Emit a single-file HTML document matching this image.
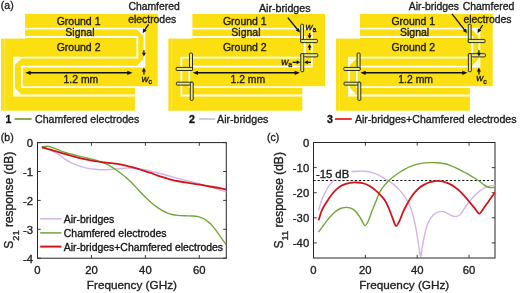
<!DOCTYPE html>
<html><head><meta charset="utf-8"><title>Figure</title>
<style>html,body{margin:0;padding:0;background:#fff;}body{width:520px;height:293px;overflow:hidden;}svg{display:block;}</style>
</head><body>
<svg width="520" height="293" viewBox="0 0 520 293"><g font-family="'Liberation Sans', Arial, Helvetica, sans-serif" fill="#1a1a1a">
<style>text{stroke:#1a1a1a;stroke-width:0.34px;}</style>
<g transform="translate(0,0)">
<rect x="25" y="13.9" width="132.7" height="72.3" fill="#fbdf10"/>
<rect x="1" y="38.6" width="133.9" height="72.1" fill="#fbdf10"/>
<rect x="4" y="38.6" width="1" height="72.1" fill="#fff" opacity="0.25"/>
<polyline points="25,28.7 144.4,28.7 144.4,66.6 21.9,66.6 21.9,87.1 134.9,87.1" fill="none" stroke="#fff" stroke-width="1.8" stroke-linejoin="miter" stroke-linecap="butt"/>
<polyline points="25,37 137.3,37 137.3,57.6 14,57.6 14,95.5 134.9,95.5" fill="none" stroke="#fff" stroke-width="1.8" stroke-linejoin="miter" stroke-linecap="butt"/>
<polygon points="136.9,29.6 143.5,29.6 143.5,36.2" fill="#fff" opacity="0.95"/>
<polygon points="143.5,59.1 143.5,65.7 136.9,65.7" fill="#fff" opacity="0.95"/>
<polygon points="14.9,58.5 21.5,58.5 14.9,65.1" fill="#fff" opacity="0.95"/>
<polygon points="14.9,88 14.9,94.6 21.5,94.6" fill="#fff" opacity="0.95"/>
<line x1="29" y1="72.8" x2="129" y2="72.8" stroke="#111" stroke-width="1.4"/>
<polygon points="25.4,72.8 30.6,70.7 30.6,74.9" fill="#111"/>
<polygon points="132.5,72.8 127.3,70.7 127.3,74.9" fill="#111"/>
</g>
<g transform="translate(167.4,0)">
<rect x="25" y="13.9" width="132.7" height="72.3" fill="#fbdf10"/>
<rect x="1" y="38.6" width="133.9" height="72.1" fill="#fbdf10"/>
<rect x="4" y="38.6" width="1" height="72.1" fill="#fff" opacity="0.25"/>
<polyline points="25,28.7 144.4,28.7 144.4,66.6 21.9,66.6 21.9,87.1 134.9,87.1" fill="none" stroke="#fff" stroke-width="1.8" stroke-linejoin="miter" stroke-linecap="butt"/>
<polyline points="25,37 137.3,37 137.3,57.6 14,57.6 14,95.5 134.9,95.5" fill="none" stroke="#fff" stroke-width="1.8" stroke-linejoin="miter" stroke-linecap="butt"/>
<rect x="133.3" y="24.3" width="2.8" height="18.2" rx="0.8" fill="#e9ea78" stroke="#1c1c10" stroke-width="0.9"/>
<rect x="133.3" y="39.4" width="16.7" height="3.2" rx="0.8" fill="#e9ea78" stroke="#1c1c10" stroke-width="0.9"/>
<rect x="133.4" y="53.7" width="17" height="3.2" rx="0.8" fill="#e9ea78" stroke="#1c1c10" stroke-width="0.9"/>
<rect x="133.4" y="53.7" width="2.9" height="18" rx="0.8" fill="#e9ea78" stroke="#1c1c10" stroke-width="0.9"/>
<rect x="22.1" y="53.1" width="3" height="17.4" rx="0.8" fill="#e9ea78" stroke="#1c1c10" stroke-width="0.9"/>
<rect x="8.8" y="67.4" width="16.3" height="3.1" rx="0.8" fill="#e9ea78" stroke="#1c1c10" stroke-width="0.9"/>
<rect x="9" y="82.2" width="16.4" height="2.9" rx="0.8" fill="#e9ea78" stroke="#1c1c10" stroke-width="0.9"/>
<rect x="22.9" y="82.2" width="2.9" height="18.1" rx="0.8" fill="#e9ea78" stroke="#1c1c10" stroke-width="0.9"/>
<line x1="29" y1="72.8" x2="129" y2="72.8" stroke="#111" stroke-width="1.4"/>
<polygon points="25.4,72.8 30.6,70.7 30.6,74.9" fill="#111"/>
<polygon points="132.5,72.8 127.3,70.7 127.3,74.9" fill="#111"/>
</g>
<g transform="translate(335,0)">
<rect x="25" y="13.9" width="132.7" height="72.3" fill="#fbdf10"/>
<rect x="1" y="38.6" width="133.9" height="72.1" fill="#fbdf10"/>
<rect x="4" y="38.6" width="1" height="72.1" fill="#fff" opacity="0.25"/>
<polyline points="25,28.7 144.4,28.7 144.4,66.6 21.9,66.6 21.9,87.1 134.9,87.1" fill="none" stroke="#fff" stroke-width="1.8" stroke-linejoin="miter" stroke-linecap="butt"/>
<polyline points="25,37 137.3,37 137.3,57.6 14,57.6 14,95.5 134.9,95.5" fill="none" stroke="#fff" stroke-width="1.8" stroke-linejoin="miter" stroke-linecap="butt"/>
<polygon points="136.9,29.6 143.5,29.6 143.5,36.2" fill="#fff" opacity="0.95"/>
<polygon points="143.5,59.1 143.5,65.7 136.9,65.7" fill="#fff" opacity="0.95"/>
<polygon points="14.9,58.5 21.5,58.5 14.9,65.1" fill="#fff" opacity="0.95"/>
<polygon points="14.9,88 14.9,94.6 21.5,94.6" fill="#fff" opacity="0.95"/>
<rect x="133.3" y="24.3" width="2.8" height="18.2" rx="0.8" fill="#e9ea78" stroke="#1c1c10" stroke-width="0.9"/>
<rect x="133.3" y="39.4" width="16.7" height="3.2" rx="0.8" fill="#e9ea78" stroke="#1c1c10" stroke-width="0.9"/>
<rect x="133.4" y="53.7" width="17" height="3.2" rx="0.8" fill="#e9ea78" stroke="#1c1c10" stroke-width="0.9"/>
<rect x="133.4" y="53.7" width="2.9" height="18" rx="0.8" fill="#e9ea78" stroke="#1c1c10" stroke-width="0.9"/>
<rect x="22.1" y="53.1" width="3" height="17.4" rx="0.8" fill="#e9ea78" stroke="#1c1c10" stroke-width="0.9"/>
<rect x="8.8" y="67.4" width="16.3" height="3.1" rx="0.8" fill="#e9ea78" stroke="#1c1c10" stroke-width="0.9"/>
<rect x="9" y="82.2" width="16.4" height="2.9" rx="0.8" fill="#e9ea78" stroke="#1c1c10" stroke-width="0.9"/>
<rect x="22.9" y="82.2" width="2.9" height="18.1" rx="0.8" fill="#e9ea78" stroke="#1c1c10" stroke-width="0.9"/>
<line x1="29" y1="72.8" x2="129" y2="72.8" stroke="#111" stroke-width="1.4"/>
<polygon points="25.4,72.8 30.6,70.7 30.6,74.9" fill="#111"/>
<polygon points="132.5,72.8 127.3,70.7 127.3,74.9" fill="#111"/>
</g>
<text x="56.7" y="24.7" font-size="10.5">Ground 1</text>
<text x="65.3" y="36.2" font-size="10.5">Signal</text>
<text x="56.7" y="50.9" font-size="10.5">Ground 2</text>
<text x="222.9" y="24.7" font-size="10.5">Ground 1</text>
<text x="231.3" y="36.2" font-size="10.5">Signal</text>
<text x="222.9" y="50.9" font-size="10.5">Ground 2</text>
<text x="391.4" y="24.7" font-size="10.5">Ground 1</text>
<text x="400" y="36.2" font-size="10.5">Signal</text>
<text x="391.4" y="50.9" font-size="10.5">Ground 2</text>
<text x="63.6" y="83" font-size="10.4">1.2 mm</text>
<text x="230.5" y="83" font-size="10.4">1.2 mm</text>
<text x="398.3" y="83" font-size="10.4">1.2 mm</text>
<text x="0.8" y="8.9" font-size="10.5">(a)</text>
<text x="128.4" y="9.8" font-size="10.4" fill="#262626">Chamfered</text>
<text x="128.2" y="22.5" font-size="10.4">electrodes</text>
<line x1="148.6" y1="24.4" x2="144.72" y2="29.97" stroke="#111" stroke-width="1.3"/>
<polygon points="142.6,33 143.36,28.41 146.64,30.7" fill="#111"/>
<line x1="143.9" y1="50.2" x2="143.9" y2="53.3" stroke="#111" stroke-width="1.3"/>
<polygon points="143.9,56.6 141.9,52.8 145.9,52.8" fill="#111"/>
<line x1="143.9" y1="74.4" x2="143.9" y2="70.9" stroke="#111" stroke-width="1.3"/>
<polygon points="143.9,67.6 145.9,71.4 141.9,71.4" fill="#111"/>
<text x="141.6" y="81.6" font-size="9.8" font-style="italic">w<tspan font-size="6.9" dx="-0.1" dy="2.3" font-style="normal">c</tspan></text>
<text x="258.9" y="11.6" font-size="10.7">Air-bridges</text>
<line x1="287.8" y1="17.6" x2="297.67" y2="29.73" stroke="#111" stroke-width="1.3"/>
<polygon points="300,32.6 295.8,30.6 298.9,28.08" fill="#111"/>
<text x="305.4" y="29.6" font-size="9.8" font-style="italic">w<tspan font-size="6.9" dx="-0.1" dy="2.3" font-style="normal">a</tspan></text>
<line x1="309.6" y1="33" x2="309.6" y2="35.7" stroke="#111" stroke-width="1.3"/>
<polygon points="309.6,38.8 307.6,35.2 311.6,35.2" fill="#111"/>
<line x1="309.6" y1="50" x2="309.6" y2="47.1" stroke="#111" stroke-width="1.3"/>
<polygon points="309.6,44 311.6,47.6 307.6,47.6" fill="#111"/>
<text x="281.3" y="64.6" font-size="9.8" font-style="italic">w<tspan font-size="6.9" dx="-0.1" dy="2.3" font-style="normal">a</tspan></text>
<line x1="292.6" y1="62.3" x2="297.2" y2="62.3" stroke="#111" stroke-width="1.3"/>
<polygon points="300.3,62.3 296.7,64.3 296.7,60.3" fill="#111"/>
<line x1="311" y1="62.3" x2="307.3" y2="62.3" stroke="#111" stroke-width="1.3"/>
<polygon points="304.2,62.3 307.8,60.3 307.8,64.3" fill="#111"/>
<text x="408.8" y="9.7" font-size="10.4">Air-bridges</text>
<text x="462.8" y="9.7" font-size="10.4" fill="#262626">Chamfered</text>
<text x="463.5" y="22.9" font-size="10.4">electrodes</text>
<line x1="452" y1="13.8" x2="464.72" y2="30.08" stroke="#111" stroke-width="1.3"/>
<polygon points="467,33 462.84,30.92 465.99,28.46" fill="#111"/>
<line x1="482.7" y1="25" x2="479.44" y2="29.92" stroke="#111" stroke-width="1.3"/>
<polygon points="477.4,33 478.05,28.39 481.39,30.6" fill="#111"/>
<line x1="478.9" y1="50.2" x2="478.9" y2="53.3" stroke="#111" stroke-width="1.3"/>
<polygon points="478.9,56.6 476.9,52.8 480.9,52.8" fill="#111"/>
<line x1="478.9" y1="74.4" x2="478.9" y2="70.9" stroke="#111" stroke-width="1.3"/>
<polygon points="478.9,67.6 480.9,71.4 476.9,71.4" fill="#111"/>
<text x="476.3" y="81.2" font-size="9.8" font-style="italic">w<tspan font-size="6.9" dx="-0.1" dy="2.3" font-style="normal">c</tspan></text>
<text x="5.6" y="122.8" font-size="10.6" font-weight="bold" fill="#111">1</text>
<line x1="14.5" y1="119" x2="31.6" y2="119" stroke="#6f9c35" stroke-width="1.7"/>
<text x="35" y="123.2" font-size="10.6" fill="#262626">Chamfered electrodes</text>
<text x="188.9" y="122.8" font-size="10.6" font-weight="bold" fill="#111">2</text>
<line x1="199" y1="119" x2="215.2" y2="119" stroke="#c9bde6" stroke-width="1.7"/>
<text x="217.1" y="123.2" font-size="10.6" fill="#262626">Air-bridges</text>
<text x="326.9" y="122.8" font-size="10.6" font-weight="bold" fill="#111">3</text>
<line x1="334.9" y1="119" x2="351.8" y2="119" stroke="#e01822" stroke-width="1.7"/>
<text x="354.9" y="123.2" font-size="10.6" fill="#262626">Air-bridges+Chamfered electrodes</text>
<defs><clipPath id="cb"><rect x="37.5" y="142.6" width="188.8" height="115.6"/></clipPath><clipPath id="cc"><rect x="313.5" y="142.5" width="181.5" height="115.5"/></clipPath></defs>
<rect x="37.5" y="142.6" width="188.8" height="115.6" fill="none" stroke="#262626" stroke-width="1"/>
<line x1="37.5" y1="258.2" x2="37.5" y2="255" stroke="#262626" stroke-width="0.9"/>
<line x1="37.5" y1="142.6" x2="37.5" y2="145.8" stroke="#262626" stroke-width="0.9"/>
<line x1="91.44" y1="258.2" x2="91.44" y2="255" stroke="#262626" stroke-width="0.9"/>
<line x1="91.44" y1="142.6" x2="91.44" y2="145.8" stroke="#262626" stroke-width="0.9"/>
<line x1="145.39" y1="258.2" x2="145.39" y2="255" stroke="#262626" stroke-width="0.9"/>
<line x1="145.39" y1="142.6" x2="145.39" y2="145.8" stroke="#262626" stroke-width="0.9"/>
<line x1="199.33" y1="258.2" x2="199.33" y2="255" stroke="#262626" stroke-width="0.9"/>
<line x1="199.33" y1="142.6" x2="199.33" y2="145.8" stroke="#262626" stroke-width="0.9"/>
<line x1="37.5" y1="142.6" x2="40.7" y2="142.6" stroke="#262626" stroke-width="0.9"/>
<line x1="226.3" y1="142.6" x2="223.1" y2="142.6" stroke="#262626" stroke-width="0.9"/>
<line x1="37.5" y1="171.5" x2="40.7" y2="171.5" stroke="#262626" stroke-width="0.9"/>
<line x1="226.3" y1="171.5" x2="223.1" y2="171.5" stroke="#262626" stroke-width="0.9"/>
<line x1="37.5" y1="200.4" x2="40.7" y2="200.4" stroke="#262626" stroke-width="0.9"/>
<line x1="226.3" y1="200.4" x2="223.1" y2="200.4" stroke="#262626" stroke-width="0.9"/>
<line x1="37.5" y1="229.3" x2="40.7" y2="229.3" stroke="#262626" stroke-width="0.9"/>
<line x1="226.3" y1="229.3" x2="223.1" y2="229.3" stroke="#262626" stroke-width="0.9"/>
<line x1="37.5" y1="258.2" x2="40.7" y2="258.2" stroke="#262626" stroke-width="0.9"/>
<line x1="226.3" y1="258.2" x2="223.1" y2="258.2" stroke="#262626" stroke-width="0.9"/>
<path d="M42.5,147.5 C43.25,147.73 45.42,148.33 47,148.9 C48.58,149.47 50.33,150.12 52,150.9 C53.67,151.68 55.33,152.58 57,153.6 C58.67,154.62 60.33,155.88 62,157 C63.67,158.12 65.33,159.28 67,160.3 C68.67,161.32 70.33,162.28 72,163.1 C73.67,163.92 75.33,164.57 77,165.2 C78.67,165.83 80.33,166.42 82,166.9 C83.67,167.38 85.33,167.77 87,168.1 C88.67,168.43 90.33,168.67 92,168.9 C93.67,169.13 95.17,169.35 97,169.5 C98.83,169.65 100.83,169.8 103,169.8 C105.17,169.8 107.67,169.65 110,169.5 C112.33,169.35 114.67,169.1 117,168.9 C119.33,168.7 121.83,168.45 124,168.3 C126.17,168.15 127.33,167.88 130,168 C132.67,168.12 136.67,168.52 140,169 C143.33,169.48 146.67,170.15 150,170.9 C153.33,171.65 156.67,172.62 160,173.5 C163.33,174.38 166.67,175.3 170,176.2 C173.33,177.1 176.67,178.03 180,178.9 C183.33,179.77 186.67,180.57 190,181.4 C193.33,182.23 196.67,183 200,183.9 C203.33,184.8 206.67,185.8 210,186.8 C213.33,187.8 217.28,189.07 220,189.9 C222.72,190.73 225.25,191.48 226.3,191.8" fill="none" stroke="#d3b4e8" stroke-width="1.4" stroke-linejoin="round" stroke-linecap="round" clip-path="url(#cb)"/>
<path d="M42.5,146.9 C43.25,146.8 45.42,146.23 47,146.3 C48.58,146.37 50.33,146.8 52,147.3 C53.67,147.8 55.33,148.62 57,149.3 C58.67,149.98 60.33,150.78 62,151.4 C63.67,152.02 65.33,152.52 67,153 C68.67,153.48 70.33,153.87 72,154.3 C73.67,154.73 75.33,155.17 77,155.6 C78.67,156.03 80.33,156.5 82,156.9 C83.67,157.3 85.33,157.63 87,158 C88.67,158.37 90.33,158.67 92,159.1 C93.67,159.53 95.33,160.07 97,160.6 C98.67,161.13 100.33,161.67 102,162.3 C103.67,162.93 105.33,163.6 107,164.4 C108.67,165.2 110.33,166.08 112,167.1 C113.67,168.12 115.33,169.3 117,170.5 C118.67,171.7 120.33,172.98 122,174.3 C123.67,175.62 125.33,176.97 127,178.4 C128.67,179.83 130.33,181.23 132,182.9 C133.67,184.57 135.33,186.58 137,188.4 C138.67,190.22 140.33,192.08 142,193.8 C143.67,195.52 145.33,197.13 147,198.7 C148.67,200.27 150.33,201.8 152,203.2 C153.67,204.6 155.33,205.92 157,207.1 C158.67,208.28 160.33,209.35 162,210.3 C163.67,211.25 165.33,212.1 167,212.8 C168.67,213.5 170.17,214.07 172,214.5 C173.83,214.93 175.83,215.18 178,215.4 C180.17,215.62 182.67,215.7 185,215.8 C187.33,215.9 189.83,215.87 192,216 C194.17,216.13 196.17,216.22 198,216.6 C199.83,216.98 201.5,217.57 203,218.3 C204.5,219.03 205.67,220.02 207,221 C208.33,221.98 209.67,222.85 211,224.2 C212.33,225.55 213.67,227.37 215,229.1 C216.33,230.83 217.67,232.72 219,234.6 C220.33,236.48 221.78,238.7 223,240.4 C224.22,242.1 225.75,244.07 226.3,244.8" fill="none" stroke="#74a63a" stroke-width="1.4" stroke-linejoin="round" stroke-linecap="round" clip-path="url(#cb)"/>
<path d="M42.5,147.5 C43.25,147.68 45.42,148.17 47,148.6 C48.58,149.03 50.33,149.6 52,150.1 C53.67,150.6 55.33,151.1 57,151.6 C58.67,152.1 60.33,152.6 62,153.1 C63.67,153.6 65.33,154.12 67,154.6 C68.67,155.08 70.33,155.55 72,156 C73.67,156.45 75.33,156.87 77,157.3 C78.67,157.73 80.33,158.2 82,158.6 C83.67,159 85.33,159.37 87,159.7 C88.67,160.03 90.33,160.32 92,160.6 C93.67,160.88 95.33,161.13 97,161.4 C98.67,161.67 100.17,161.95 102,162.2 C103.83,162.45 105.83,162.67 108,162.9 C110.17,163.13 113,163.37 115,163.6 C117,163.83 118.33,164.02 120,164.3 C121.67,164.58 123.33,164.9 125,165.3 C126.67,165.7 128.33,166.27 130,166.7 C131.67,167.13 133.33,167.43 135,167.9 C136.67,168.37 138.33,168.97 140,169.5 C141.67,170.03 143.33,170.57 145,171.1 C146.67,171.63 148.33,172.13 150,172.7 C151.67,173.27 153.33,173.88 155,174.5 C156.67,175.12 157.5,175.6 160,176.4 C162.5,177.2 166.67,178.45 170,179.3 C173.33,180.15 176.67,180.87 180,181.5 C183.33,182.13 186.67,182.57 190,183.1 C193.33,183.63 196.67,184.13 200,184.7 C203.33,185.27 206.67,185.92 210,186.5 C213.33,187.08 217.28,187.7 220,188.2 C222.72,188.7 225.25,189.28 226.3,189.5" fill="none" stroke="#d2151d" stroke-width="1.8" stroke-linejoin="round" stroke-linecap="round" clip-path="url(#cb)"/>
<text x="33.1" y="146.9" font-size="11.3" text-anchor="end" fill="#262626">0</text>
<text x="33.1" y="175.8" font-size="11.3" text-anchor="end" fill="#262626">-1</text>
<text x="33.1" y="204.7" font-size="11.3" text-anchor="end" fill="#262626">-2</text>
<text x="33.1" y="233.6" font-size="11.3" text-anchor="end" fill="#262626">-3</text>
<text x="33.1" y="262.5" font-size="11.3" text-anchor="end" fill="#262626">-4</text>
<text x="37.5" y="274" font-size="11.3" text-anchor="middle" fill="#262626">0</text>
<text x="91.44" y="274" font-size="11.3" text-anchor="middle" fill="#262626">20</text>
<text x="145.39" y="274" font-size="11.3" text-anchor="middle" fill="#262626">40</text>
<text x="199.33" y="274" font-size="11.3" text-anchor="middle" fill="#262626">60</text>
<text x="131.9" y="289.4" font-size="11.75" text-anchor="middle" fill="#262626">Frequency (GHz)</text>
<text transform="translate(13.3,248.8) rotate(-90)" font-size="12" fill="#262626">S<tspan font-size="9.3" dy="5.6">21</tspan><tspan dy="-5.6"> response (dB)</tspan></text>
<text x="0.8" y="141.4" font-size="10.5">(b)</text>
<line x1="40.2" y1="218.8" x2="61.4" y2="218.8" stroke="#d3b4e8" stroke-width="1.5"/>
<text x="63.8" y="222.8" font-size="10.45" fill="#111">Air-bridges</text>
<line x1="40.2" y1="232.9" x2="61.4" y2="232.9" stroke="#74a63a" stroke-width="1.5"/>
<text x="63.8" y="236.9" font-size="10.45" fill="#111">Chamfered electrodes</text>
<line x1="40.2" y1="246.6" x2="61.4" y2="246.6" stroke="#d2151d" stroke-width="2"/>
<text x="63.8" y="250.6" font-size="10.45" fill="#111">Air-bridges+Chamfered electrodes</text>
<rect x="313.5" y="142.5" width="181.5" height="115.5" fill="none" stroke="#262626" stroke-width="1"/>
<line x1="313.5" y1="258" x2="313.5" y2="254.8" stroke="#262626" stroke-width="0.9"/>
<line x1="313.5" y1="142.5" x2="313.5" y2="145.7" stroke="#262626" stroke-width="0.9"/>
<line x1="365.36" y1="258" x2="365.36" y2="254.8" stroke="#262626" stroke-width="0.9"/>
<line x1="365.36" y1="142.5" x2="365.36" y2="145.7" stroke="#262626" stroke-width="0.9"/>
<line x1="417.21" y1="258" x2="417.21" y2="254.8" stroke="#262626" stroke-width="0.9"/>
<line x1="417.21" y1="142.5" x2="417.21" y2="145.7" stroke="#262626" stroke-width="0.9"/>
<line x1="469.07" y1="258" x2="469.07" y2="254.8" stroke="#262626" stroke-width="0.9"/>
<line x1="469.07" y1="142.5" x2="469.07" y2="145.7" stroke="#262626" stroke-width="0.9"/>
<line x1="313.5" y1="142.5" x2="316.7" y2="142.5" stroke="#262626" stroke-width="0.9"/>
<line x1="495" y1="142.5" x2="491.8" y2="142.5" stroke="#262626" stroke-width="0.9"/>
<line x1="313.5" y1="167.61" x2="316.7" y2="167.61" stroke="#262626" stroke-width="0.9"/>
<line x1="495" y1="167.61" x2="491.8" y2="167.61" stroke="#262626" stroke-width="0.9"/>
<line x1="313.5" y1="192.72" x2="316.7" y2="192.72" stroke="#262626" stroke-width="0.9"/>
<line x1="495" y1="192.72" x2="491.8" y2="192.72" stroke="#262626" stroke-width="0.9"/>
<line x1="313.5" y1="217.83" x2="316.7" y2="217.83" stroke="#262626" stroke-width="0.9"/>
<line x1="495" y1="217.83" x2="491.8" y2="217.83" stroke="#262626" stroke-width="0.9"/>
<line x1="313.5" y1="242.93" x2="316.7" y2="242.93" stroke="#262626" stroke-width="0.9"/>
<line x1="495" y1="242.93" x2="491.8" y2="242.93" stroke="#262626" stroke-width="0.9"/>
<line x1="313.5" y1="180.5" x2="495" y2="180.5" stroke="#111" stroke-width="1" stroke-dasharray="2.2,1.93"/>
<path d="M318.8,209.5 C319.33,207.78 320.63,202.62 322,199.2 C323.37,195.78 325.33,191.87 327,189 C328.67,186.13 330.33,184 332,182 C333.67,180 335.33,178.35 337,177 C338.67,175.65 339.83,174.77 342,173.9 C344.17,173.03 347,172.25 350,171.8 C353,171.35 357.5,171.28 360,171.2 C362.5,171.12 363.33,171.17 365,171.3 C366.67,171.43 368.33,171.62 370,172 C371.67,172.38 373.33,172.97 375,173.6 C376.67,174.23 378.33,174.93 380,175.8 C381.67,176.67 383.33,177.78 385,178.8 C386.67,179.82 388.33,180.77 390,181.9 C391.67,183.03 393.33,184.15 395,185.6 C396.67,187.05 398.5,188.92 400,190.6 C401.5,192.28 402.75,193.97 404,195.7 C405.25,197.43 406.42,199.03 407.5,201 C408.58,202.97 409.5,204.83 410.5,207.5 C411.5,210.17 412.5,213 413.5,217 C414.5,221 415.62,226.67 416.5,231.5 C417.38,236.33 418.13,241.82 418.8,246 C419.47,250.18 419.92,256.43 420.5,256.6 C421.08,256.77 421.62,250.6 422.3,247 C422.98,243.4 423.78,238.67 424.6,235 C425.42,231.33 426.13,227.9 427.2,225 C428.27,222.1 429.53,219.6 431,217.6 C432.47,215.6 434.25,214.03 436,213 C437.75,211.97 439.75,211.43 441.5,211.4 C443.25,211.37 445.08,212.23 446.5,212.8 C447.92,213.37 448.75,214.23 450,214.8 C451.25,215.37 452.75,215.97 454,216.2 C455.25,216.43 456.33,216.63 457.5,216.2 C458.67,215.77 459.75,215.03 461,213.6 C462.25,212.17 463.5,209.73 465,207.6 C466.5,205.47 468.33,202.85 470,200.8 C471.67,198.75 473.33,196.95 475,195.3 C476.67,193.65 478.33,192.17 480,190.9 C481.67,189.63 483.33,188.53 485,187.7 C486.67,186.87 488.33,186.3 490,185.9 C491.67,185.5 494.17,185.4 495,185.3" fill="none" stroke="#d3b4e8" stroke-width="1.4" stroke-linejoin="round" stroke-linecap="round" clip-path="url(#cc)"/>
<path d="M318.8,231.6 C319.33,230.88 320.63,229.13 322,227.3 C323.37,225.47 325.33,222.7 327,220.6 C328.67,218.5 330.33,216.4 332,214.7 C333.67,213 335.33,211.52 337,210.4 C338.67,209.28 340.33,208.5 342,208 C343.67,207.5 345.33,207.28 347,207.4 C348.67,207.52 350.33,207.77 352,208.7 C353.67,209.63 355.5,211.28 357,213 C358.5,214.72 359.67,216.93 361,219 C362.33,221.07 363.75,225.15 365,225.4 C366.25,225.65 367.33,222.9 368.5,220.5 C369.67,218.1 370.75,214.22 372,211 C373.25,207.78 374.67,204.43 376,201.2 C377.33,197.97 378.5,194.37 380,191.6 C381.5,188.83 383.33,186.6 385,184.6 C386.67,182.6 388.33,181.12 390,179.6 C391.67,178.08 393.33,176.77 395,175.5 C396.67,174.23 398.33,173.07 400,172 C401.67,170.93 403.33,169.98 405,169.1 C406.67,168.22 408.33,167.42 410,166.7 C411.67,165.98 413.33,165.32 415,164.8 C416.67,164.28 418.33,163.92 420,163.6 C421.67,163.28 423.17,163.07 425,162.9 C426.83,162.73 428.83,162.62 431,162.6 C433.17,162.58 435.67,162.6 438,162.8 C440.33,163 443,163.38 445,163.8 C447,164.22 448.33,164.72 450,165.3 C451.67,165.88 453.33,166.55 455,167.3 C456.67,168.05 458.33,168.93 460,169.8 C461.67,170.67 463.33,171.58 465,172.5 C466.67,173.42 468.33,174.32 470,175.3 C471.67,176.28 473.33,177.35 475,178.4 C476.67,179.45 478.5,180.53 480,181.6 C481.5,182.67 482.67,183.9 484,184.8 C485.33,185.7 486.75,186.53 488,187 C489.25,187.47 490.33,187.62 491.5,187.6 C492.67,187.58 494.42,187.02 495,186.9" fill="none" stroke="#74a63a" stroke-width="1.4" stroke-linejoin="round" stroke-linecap="round" clip-path="url(#cc)"/>
<path d="M318.8,219.7 C319.33,218.05 320.63,212.85 322,209.8 C323.37,206.75 325.33,204 327,201.4 C328.67,198.8 330.33,196.28 332,194.2 C333.67,192.12 335.33,190.37 337,188.9 C338.67,187.43 339.83,186.42 342,185.4 C344.17,184.38 347.5,183.28 350,182.8 C352.5,182.32 354.67,182.38 357,182.5 C359.33,182.62 361.83,182.87 364,183.5 C366.17,184.13 368.17,185.23 370,186.3 C371.83,187.37 373.33,188.52 375,189.9 C376.67,191.28 378.33,192.82 380,194.6 C381.67,196.38 383.5,198.23 385,200.6 C386.5,202.97 387.75,205.93 389,208.8 C390.25,211.67 391.33,214.93 392.5,217.8 C393.67,220.67 394.83,225.5 396,226 C397.17,226.5 398.33,223.1 399.5,220.8 C400.67,218.5 401.75,214.97 403,212.2 C404.25,209.43 405.67,206.67 407,204.2 C408.33,201.73 409.67,199.4 411,197.4 C412.33,195.4 413.5,193.88 415,192.2 C416.5,190.52 418.33,188.62 420,187.3 C421.67,185.98 423.33,185.15 425,184.3 C426.67,183.45 428.33,182.73 430,182.2 C431.67,181.67 433.33,181.28 435,181.1 C436.67,180.92 438.33,180.92 440,181.1 C441.67,181.28 443.33,181.7 445,182.2 C446.67,182.7 448.33,183.25 450,184.1 C451.67,184.95 453.33,186.08 455,187.3 C456.67,188.52 458.33,189.85 460,191.4 C461.67,192.95 463.33,194.73 465,196.6 C466.67,198.47 468.33,200.6 470,202.6 C471.67,204.6 473.47,206.77 475,208.6 C476.53,210.43 477.87,213.5 479.2,213.6 C480.53,213.7 481.7,210.87 483,209.2 C484.3,207.53 485.67,205.5 487,203.6 C488.33,201.7 489.67,199.65 491,197.8 C492.33,195.95 494.33,193.38 495,192.5" fill="none" stroke="#d2151d" stroke-width="1.8" stroke-linejoin="round" stroke-linecap="round" clip-path="url(#cc)"/>
<rect x="315" y="168.8" width="36.5" height="11" fill="#fff"/>
<text x="315.9" y="178.4" font-size="11.3" fill="#111">-15 dB</text>
<text x="309.2" y="146.8" font-size="11.3" text-anchor="end" fill="#262626">0</text>
<text x="309.2" y="171.91" font-size="11.3" text-anchor="end" fill="#262626">-10</text>
<text x="309.2" y="197.02" font-size="11.3" text-anchor="end" fill="#262626">-20</text>
<text x="309.2" y="222.13" font-size="11.3" text-anchor="end" fill="#262626">-30</text>
<text x="309.2" y="247.23" font-size="11.3" text-anchor="end" fill="#262626">-40</text>
<text x="313.5" y="274" font-size="11.3" text-anchor="middle" fill="#262626">0</text>
<text x="365.36" y="274" font-size="11.3" text-anchor="middle" fill="#262626">20</text>
<text x="417.21" y="274" font-size="11.3" text-anchor="middle" fill="#262626">40</text>
<text x="469.07" y="274" font-size="11.3" text-anchor="middle" fill="#262626">60</text>
<text x="404.2" y="289.4" font-size="11.75" text-anchor="middle" fill="#262626">Frequency (GHz)</text>
<text transform="translate(282.5,248.5) rotate(-90)" font-size="12" fill="#262626">S<tspan font-size="9.3" dy="5.6">11</tspan><tspan dy="-5.6"> response (dB)</tspan></text>
<text x="267" y="141.4" font-size="10.5">(c)</text>
</g></svg>
</body></html>
